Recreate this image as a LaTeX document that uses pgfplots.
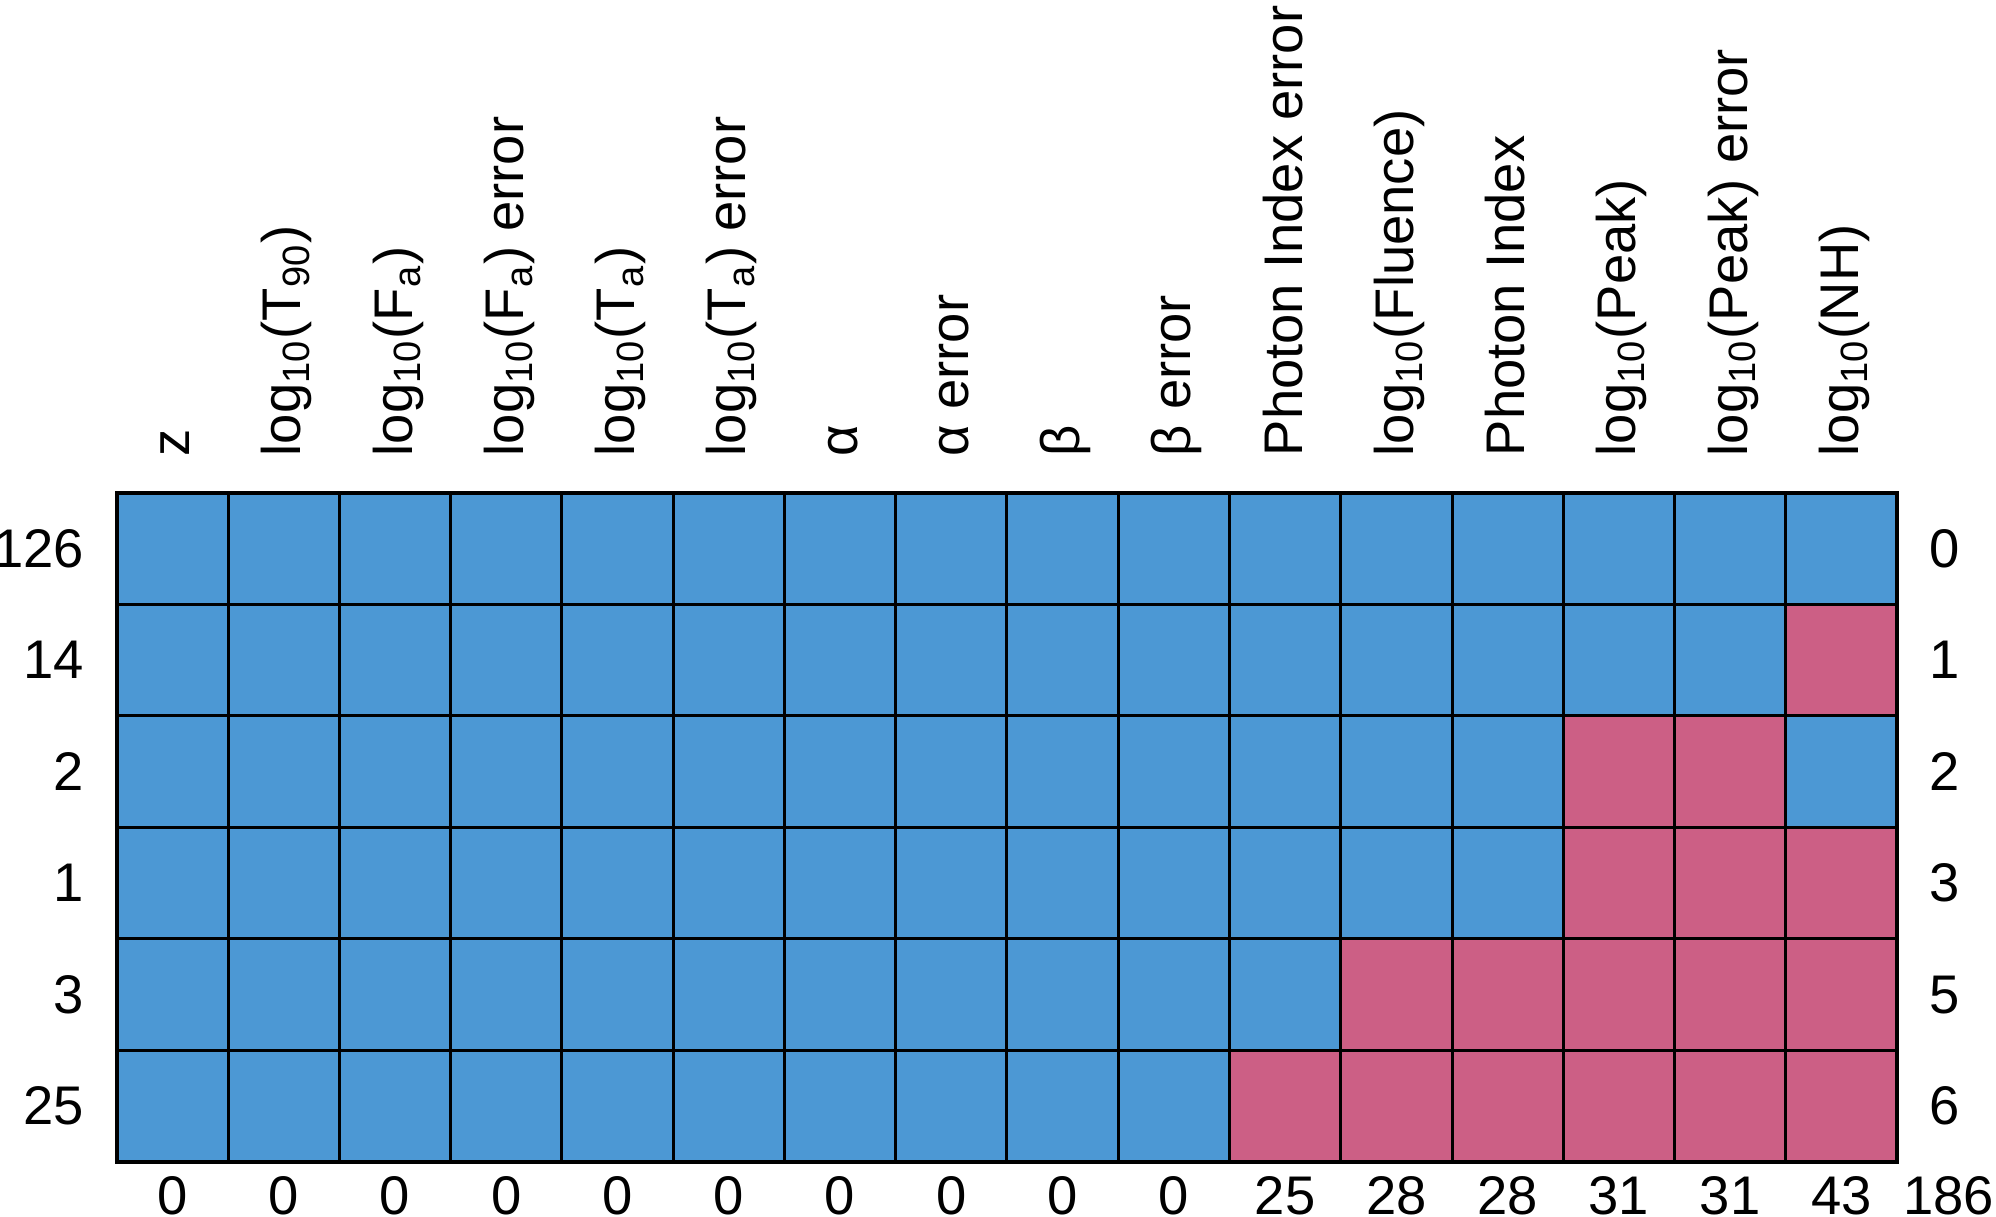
\documentclass[border=0pt]{standalone}
\usepackage{fontspec}
\setmainfont{Liberation Sans}
\usepackage{pgfplots}
\pgfplotsset{compat=1.18}
\usepackage{pgfplotstable}
\definecolor{obs}{RGB}{76,152,212}
\definecolor{mis}{RGB}{204,95,133}

% missing-data pattern: m=1 missing (pink), m=0 observed (blue)
\pgfplotstableread{
x y m
0.5 0.5 0
1.5 0.5 0
2.5 0.5 0
3.5 0.5 0
4.5 0.5 0
5.5 0.5 0
6.5 0.5 0
7.5 0.5 0
8.5 0.5 0
9.5 0.5 0
10.5 0.5 1
11.5 0.5 1
12.5 0.5 1
13.5 0.5 1
14.5 0.5 1
15.5 0.5 1
0.5 1.5 0
1.5 1.5 0
2.5 1.5 0
3.5 1.5 0
4.5 1.5 0
5.5 1.5 0
6.5 1.5 0
7.5 1.5 0
8.5 1.5 0
9.5 1.5 0
10.5 1.5 0
11.5 1.5 1
12.5 1.5 1
13.5 1.5 1
14.5 1.5 1
15.5 1.5 1
0.5 2.5 0
1.5 2.5 0
2.5 2.5 0
3.5 2.5 0
4.5 2.5 0
5.5 2.5 0
6.5 2.5 0
7.5 2.5 0
8.5 2.5 0
9.5 2.5 0
10.5 2.5 0
11.5 2.5 0
12.5 2.5 0
13.5 2.5 1
14.5 2.5 1
15.5 2.5 1
0.5 3.5 0
1.5 3.5 0
2.5 3.5 0
3.5 3.5 0
4.5 3.5 0
5.5 3.5 0
6.5 3.5 0
7.5 3.5 0
8.5 3.5 0
9.5 3.5 0
10.5 3.5 0
11.5 3.5 0
12.5 3.5 0
13.5 3.5 1
14.5 3.5 1
15.5 3.5 0
0.5 4.5 0
1.5 4.5 0
2.5 4.5 0
3.5 4.5 0
4.5 4.5 0
5.5 4.5 0
6.5 4.5 0
7.5 4.5 0
8.5 4.5 0
9.5 4.5 0
10.5 4.5 0
11.5 4.5 0
12.5 4.5 0
13.5 4.5 0
14.5 4.5 0
15.5 4.5 1
0.5 5.5 0
1.5 5.5 0
2.5 5.5 0
3.5 5.5 0
4.5 5.5 0
5.5 5.5 0
6.5 5.5 0
7.5 5.5 0
8.5 5.5 0
9.5 5.5 0
10.5 5.5 0
11.5 5.5 0
12.5 5.5 0
13.5 5.5 0
14.5 5.5 0
15.5 5.5 0
}\pattern

\begin{document}
\begin{tikzpicture}[lab/.style={font=\fontsize{13.6}{16}\selectfont, inner sep=0pt},
  top/.style={lab, rotate=90, anchor=base west}]
\useasboundingbox (-29.25pt,-13.75pt) rectangle (469.75pt,290.5pt);
\begin{axis}[
  at={(0,0)}, anchor=south west,
  scale only axis, width=445pt, height=167.25pt,
  xmin=0, xmax=16, ymin=0, ymax=6,
  xtick={0,...,16}, ytick={0,...,6},
  xticklabels={}, yticklabels={},
  major tick length=0pt,
  grid=major,
  major grid style={black, line width=0.75pt},
  axis line style={black, line width=1pt},
  axis on top,
  clip=false,
  colormap={mdc}{rgb255=(76,152,212) rgb255=(204,95,133)},
  point meta min=0, point meta max=1,
]
\addplot[matrix plot*, mesh/cols=16, point meta=explicit, draw=none] table[x=x, y=y, meta=m] {\pattern};

% column labels
\node[top] at ([xshift=4.25pt,yshift=9pt]axis cs:0.5,6) {z};
\node[top] at ([xshift=4.25pt,yshift=9pt]axis cs:1.5,6) {log\textsubscript{10}(T\textsubscript{90})};
\node[top] at ([xshift=4.25pt,yshift=9pt]axis cs:2.5,6) {log\textsubscript{10}(F\textsubscript{a})};
\node[top] at ([xshift=4.25pt,yshift=9pt]axis cs:3.5,6) {log\textsubscript{10}(F\textsubscript{a}) error};
\node[top] at ([xshift=4.25pt,yshift=9pt]axis cs:4.5,6) {log\textsubscript{10}(T\textsubscript{a})};
\node[top] at ([xshift=4.25pt,yshift=9pt]axis cs:5.5,6) {log\textsubscript{10}(T\textsubscript{a}) error};
\node[top] at ([xshift=4.25pt,yshift=9pt]axis cs:6.5,6) {α};
\node[top] at ([xshift=4.25pt,yshift=9pt]axis cs:7.5,6) {α error};
\node[top] at ([xshift=4.25pt,yshift=9pt]axis cs:8.5,6) {β};
\node[top] at ([xshift=4.25pt,yshift=9pt]axis cs:9.5,6) {β error};
\node[top] at ([xshift=4.25pt,yshift=9pt]axis cs:10.5,6) {Photon Index error};
\node[top] at ([xshift=4.25pt,yshift=9pt]axis cs:11.5,6) {log\textsubscript{10}(Fluence)};
\node[top] at ([xshift=4.25pt,yshift=9pt]axis cs:12.5,6) {Photon Index};
\node[top] at ([xshift=4.25pt,yshift=9pt]axis cs:13.5,6) {log\textsubscript{10}(Peak)};
\node[top] at ([xshift=4.25pt,yshift=9pt]axis cs:14.5,6) {log\textsubscript{10}(Peak) error};
\node[top] at ([xshift=4.25pt,yshift=9pt]axis cs:15.5,6) {log\textsubscript{10}(NH)};

% row frequencies (left)
\node[lab, anchor=east] at ([xshift=-8pt]axis cs:0,5.5) {126};
\node[lab, anchor=east] at ([xshift=-8pt]axis cs:0,4.5) {14};
\node[lab, anchor=east] at ([xshift=-8pt]axis cs:0,3.5) {2};
\node[lab, anchor=east] at ([xshift=-8pt]axis cs:0,2.5) {1};
\node[lab, anchor=east] at ([xshift=-8pt]axis cs:0,1.5) {3};
\node[lab, anchor=east] at ([xshift=-8pt]axis cs:0,0.5) {25};

% number missing per row (right)
\node[lab, anchor=west] at ([xshift=8pt]axis cs:16,5.5) {0};
\node[lab, anchor=west] at ([xshift=8pt]axis cs:16,4.5) {1};
\node[lab, anchor=west] at ([xshift=8pt]axis cs:16,3.5) {2};
\node[lab, anchor=west] at ([xshift=8pt]axis cs:16,2.5) {3};
\node[lab, anchor=west] at ([xshift=8pt]axis cs:16,1.5) {5};
\node[lab, anchor=west] at ([xshift=8pt]axis cs:16,0.5) {6};

% missing per column (bottom)
\node[lab, anchor=north] at ([yshift=-3.5pt]axis cs:0.5,0) {0};
\node[lab, anchor=north] at ([yshift=-3.5pt]axis cs:1.5,0) {0};
\node[lab, anchor=north] at ([yshift=-3.5pt]axis cs:2.5,0) {0};
\node[lab, anchor=north] at ([yshift=-3.5pt]axis cs:3.5,0) {0};
\node[lab, anchor=north] at ([yshift=-3.5pt]axis cs:4.5,0) {0};
\node[lab, anchor=north] at ([yshift=-3.5pt]axis cs:5.5,0) {0};
\node[lab, anchor=north] at ([yshift=-3.5pt]axis cs:6.5,0) {0};
\node[lab, anchor=north] at ([yshift=-3.5pt]axis cs:7.5,0) {0};
\node[lab, anchor=north] at ([yshift=-3.5pt]axis cs:8.5,0) {0};
\node[lab, anchor=north] at ([yshift=-3.5pt]axis cs:9.5,0) {0};
\node[lab, anchor=north] at ([yshift=-3.5pt]axis cs:10.5,0) {25};
\node[lab, anchor=north] at ([yshift=-3.5pt]axis cs:11.5,0) {28};
\node[lab, anchor=north] at ([yshift=-3.5pt]axis cs:12.5,0) {28};
\node[lab, anchor=north] at ([yshift=-3.5pt]axis cs:13.5,0) {31};
\node[lab, anchor=north] at ([yshift=-3.5pt]axis cs:14.5,0) {31};
\node[lab, anchor=north] at ([yshift=-3.5pt]axis cs:15.5,0) {43};
\node[lab, anchor=north] at ([xshift=-1pt,yshift=-3.5pt]axis cs:16.5,0) {186};
\end{axis}
\end{tikzpicture}
\end{document}
